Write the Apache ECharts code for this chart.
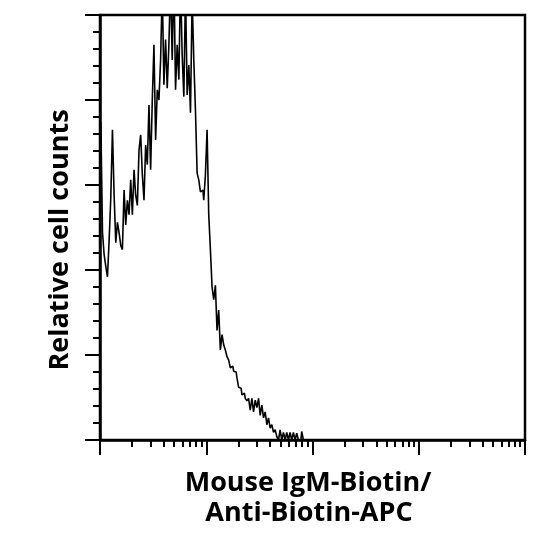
<!DOCTYPE html>
<html>
<head>
<meta charset="utf-8">
<script src="https://cdn.jsdelivr.net/npm/echarts@6/dist/echarts.min.js"></script>
<style>
html,body{margin:0;padding:0;background:#fff;}
#chart{width:540px;height:540px;}
</style>
</head>
<body>
<div id="chart"></div>
<script>
// Histogram counts per log channel (256 channels over 4 decades), relative scale 0-5
const counts = [
  2.47, 3.74, 2.44, 2.18, 2.04, 1.92, 2.35, 2.85, 3.65, 2.88,
  2.32, 2.56, 2.44, 2.29, 2.24, 2.94, 2.53, 2.82, 2.65, 3.06,
  2.65, 3.18, 2.88, 2.76, 3.41, 3.59, 3.12, 2.82, 3.47, 3.24,
  3.94, 3.18, 4.00, 4.65, 3.53, 4.12, 4.00, 4.47, 5.30, 4.18,
  4.71, 4.14, 4.65, 5.40, 4.47, 5.50, 4.12, 4.65, 4.24, 5.40,
  4.53, 4.04, 5.30, 4.06, 4.41, 3.85, 5.20, 4.47, 3.88, 3.14,
  3.06, 2.92, 2.94, 2.82, 3.12, 3.65, 2.65, 2.24, 1.80, 1.65,
  1.82, 1.29, 1.53, 1.06, 1.24, 1.12, 1.06, 0.98, 0.94, 0.85,
  0.87, 0.81, 0.80, 0.73, 0.62, 0.61, 0.53, 0.55, 0.49, 0.46,
  0.49, 0.35, 0.49, 0.33, 0.47, 0.38, 0.49, 0.29, 0.41, 0.26,
  0.33, 0.18, 0.26, 0.14, 0.18, 0.09, 0.12, 0.04, 0.00, 0.12,
  0.00, 0.09, 0.00, 0.09, 0.00, 0.09, 0.00, 0.09, 0.00, 0.08,
  0.00, 0.00, 0.10, 0.00, 0.00
];
// Axis ranges / ticks (channel units; one decade = 64 channels)
const xMin = 0, xMax = 256, xDecade = 64;
const xMinorTicks = [
  19.3, 30.5, 38.5, 44.7, 49.8, 54.1, 57.8, 61.1,
  83.3, 94.5, 102.5, 108.7, 113.8, 118.1, 121.8, 125.1,
  147.3, 158.5, 166.5, 172.7, 177.8, 182.1, 185.8, 189.1,
  211.3, 222.5, 230.5, 236.7, 241.8, 246.1, 249.8, 253.1
];
const yMin = 0, yMax = 5, yStep = 1;
const yTitle = 'Relative cell counts';
const xTitleLines = ['Mouse IgM-Biotin/', 'Anti-Biotin-APC'];

const seriesData = counts.map((v, i) => [i, v]);

const chart = echarts.init(document.getElementById('chart'), null, {renderer: 'canvas'});
const black = '#000';
const gridBox = {left: 100, right: 15, top: 15, bottom: 100};
chart.setOption({
  animation: false,
  backgroundColor: '#fff',
  grid: [
    Object.assign({show: true, borderColor: black, borderWidth: 2.5, backgroundColor: 'transparent'}, gridBox),
    Object.assign({show: false}, gridBox)
  ],
  xAxis: [
    {
      gridIndex: 0, type: 'value', min: xMin, max: xMax, interval: xDecade,
      axisLine: {show: true, lineStyle: {color: black, width: 2.5}},
      axisTick: {show: true, length: 15, lineStyle: {color: black, width: 2}},
      axisLabel: {show: false}, splitLine: {show: false}
    },
    {
      gridIndex: 1, type: 'value', min: xMin, max: xMax, interval: xDecade,
      axisLine: {show: false},
      axisTick: {show: true, length: 7, customValues: xMinorTicks, lineStyle: {color: black, width: 2}},
      axisLabel: {show: false}, splitLine: {show: false}
    }
  ],
  yAxis: [
    {
      gridIndex: 0, type: 'value', min: yMin, max: yMax, interval: yStep,
      axisLine: {show: true, lineStyle: {color: black, width: 2.5}},
      axisTick: {show: true, length: 15, lineStyle: {color: black, width: 2}},
      minorTick: {show: true, splitNumber: 5, length: 7, lineStyle: {color: black, width: 2}},
      axisLabel: {show: false}, splitLine: {show: false}, minorSplitLine: {show: false}
    },
    {
      gridIndex: 1, type: 'value', min: yMin, max: yMax, show: false
    }
  ],
  series: [{
    type: 'line',
    xAxisIndex: 0, yAxisIndex: 0,
    step: 'middle',
    symbol: 'none',
    clip: true,
    lineStyle: {color: black, width: 1.6},
    data: seriesData
  }],
  graphic: [
    {type: 'text', x: 308, y: 483, style: {text: xTitleLines[0], font: 'bold 27px "Open Sans"', fill: black, textAlign: 'center', textVerticalAlign: 'middle'}},
    {type: 'text', x: 309, y: 513, style: {text: xTitleLines[1], font: 'bold 27px "Open Sans"', fill: black, textAlign: 'center', textVerticalAlign: 'middle'}},
    {type: 'text', x: 60, y: 240, rotation: Math.PI / 2, style: {text: yTitle, font: 'bold 27px "Open Sans"', fill: black, textAlign: 'center', textVerticalAlign: 'middle'}}
  ]
});
</script>
</body>
</html>
